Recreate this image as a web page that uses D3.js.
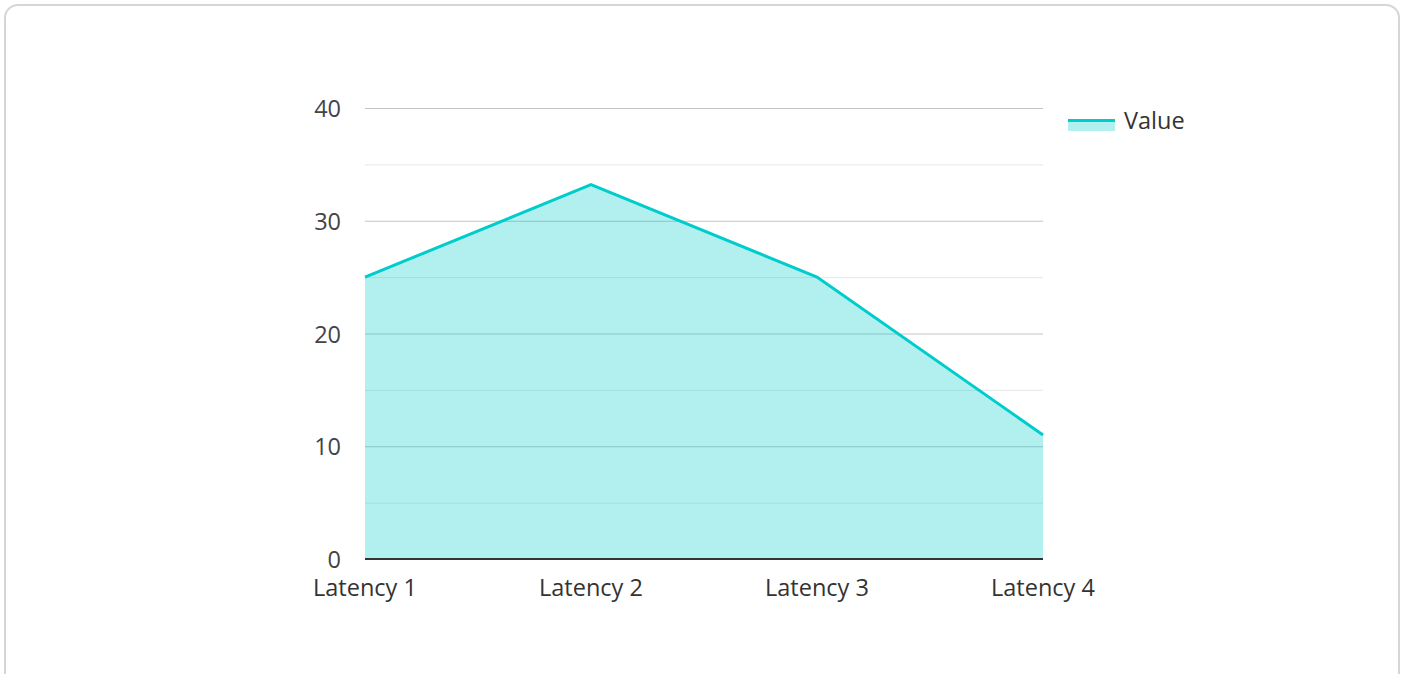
<html>
<head>
    <style>
        body { margin: 0; background: #fff; font-family: "Open Sans", "Noto Sans", sans-serif; }
        .card {
            position: absolute; left: 4px; top: 4px; width: 1396px; height: 690px;
            border: 2px solid #d6d6d6; border-radius: 14px; box-sizing: border-box;
        }
        svg { position: absolute; left: 0; top: 0; }
    </style>
    <script src="https://cdn.jsdelivr.net/npm/d3@7"></script>
</head>
<body>
<div class="card"></div>
<svg id="grafico" width="1404" height="674"></svg>
<script>
    // datos
    let categorias = ["Latency 1", "Latency 2", "Latency 3", "Latency 4"];
    let valores = [25, 33.2, 25, 11];
    let ticksY = [0, 10, 20, 30, 40];
    let ticksMenores = [5, 15, 25, 35];
    let serie = "Value";

    let margenes = { left: 365, right: 1043, top: 108, bottom: 559 };
    let svg = d3.select("#grafico");

    let escalaX = d3.scalePoint().domain(categorias).range([margenes.left, margenes.right]);
    let escalaY = d3.scaleLinear().domain([0, 40]).range([margenes.bottom, margenes.top]);

    let datos = categorias.map((c, i) => ({ cat: c, val: valores[i] }));

    // rejilla
    svg.append("g").selectAll("line").data(ticksMenores).enter().append("line")
        .attr("x1", margenes.left).attr("x2", margenes.right)
        .attr("y1", d => escalaY(d) + 0.5).attr("y2", d => escalaY(d) + 0.5)
        .attr("stroke", "#e6e6e6").attr("stroke-width", 1);
    svg.append("g").selectAll("line").data(ticksY.filter(d => d > 0)).enter().append("line")
        .attr("x1", margenes.left).attr("x2", margenes.right)
        .attr("y1", d => escalaY(d) + 0.5).attr("y2", d => escalaY(d) + 0.5)
        .attr("stroke", "#c4c4c4").attr("stroke-width", 1);

    // area y linea
    let area = d3.area().x(d => escalaX(d.cat)).y0(escalaY(0)).y1(d => escalaY(d.val));
    let linea = d3.line().x(d => escalaX(d.cat)).y(d => escalaY(d.val));

    svg.append("path").datum(datos).attr("d", area)
        .attr("fill", "rgba(0, 204, 204, 0.3)");
    svg.append("path").datum(datos).attr("d", linea)
        .attr("fill", "none").attr("stroke", "#00cccc").attr("stroke-width", 3);

    // eje X
    svg.append("line")
        .attr("x1", margenes.left).attr("x2", margenes.right)
        .attr("y1", escalaY(0)).attr("y2", escalaY(0))
        .attr("stroke", "#333").attr("stroke-width", 2);

    svg.append("g").selectAll("text").data(categorias).enter().append("text")
        .attr("x", d => escalaX(d)).attr("y", 596)
        .attr("text-anchor", "middle")
        .attr("font-size", 23.5).attr("fill", "#333")
        .text(d => d);

    // eje Y
    svg.append("g").selectAll("text").data(ticksY).enter().append("text")
        .attr("x", 341).attr("y", d => escalaY(d) + 9)
        .attr("text-anchor", "end")
        .attr("font-size", 23.5).attr("fill", "#444")
        .text(d => d);

    // leyenda
    let leyenda = svg.append("g");
    leyenda.append("rect").attr("x", 1068).attr("y", 119).attr("width", 47).attr("height", 12)
        .attr("fill", "rgba(0, 204, 204, 0.3)");
    leyenda.append("line").attr("x1", 1068).attr("x2", 1115).attr("y1", 120.5).attr("y2", 120.5)
        .attr("stroke", "#00cccc").attr("stroke-width", 3);
    leyenda.append("text").attr("x", 1124).attr("y", 129)
        .attr("font-size", 23.5).attr("fill", "#333").text(serie);
</script>
</body>
</html>
